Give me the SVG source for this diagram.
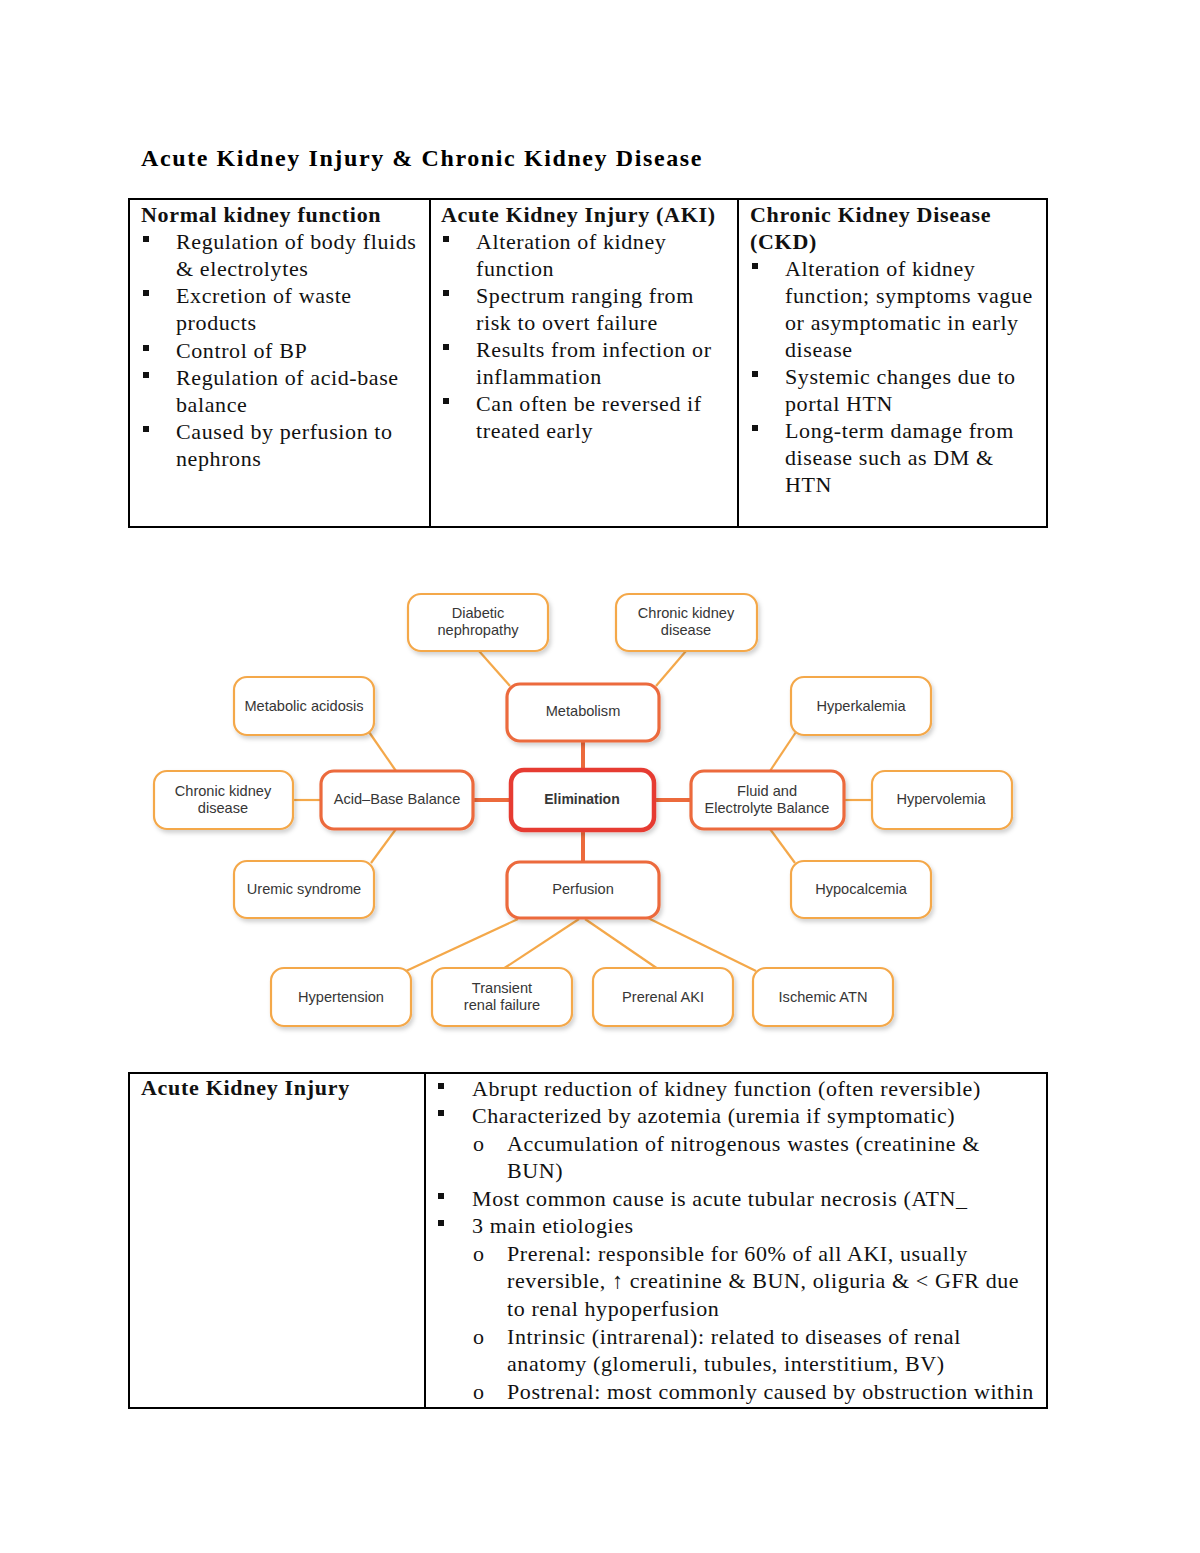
<svg xmlns="http://www.w3.org/2000/svg" width="1200" height="1553" viewBox="0 0 1200 1553">
<defs>
<filter id="sh" x="-20%" y="-20%" width="150%" height="160%">
<feDropShadow dx="2" dy="3" stdDeviation="2" flood-color="#000" flood-opacity="0.18"/>
</filter>
<style>
.t{font-family:"Liberation Serif","Times New Roman",serif;font-size:22px;fill:#111;letter-spacing:0.6px;}
.h{font-family:"Liberation Serif","Times New Roman",serif;font-size:22px;font-weight:bold;fill:#111;letter-spacing:0.7px;}
.ttl{font-family:"Liberation Serif","Times New Roman",serif;font-size:24px;font-weight:bold;fill:#000;letter-spacing:1.6px;}
.tb{fill:none;stroke:#000;stroke-width:2;}
.b{fill:#111;}
.n1{fill:#fff;stroke:#F4A84A;stroke-width:2.2;filter:url(#sh);}
.n2{fill:#fff;stroke:#EC6A3C;stroke-width:3.2;filter:url(#sh);}
.n3{fill:#fff;stroke:#E63B30;stroke-width:4.5;filter:url(#sh);}
.nt{font-family:"Liberation Sans",Arial,sans-serif;font-size:14.6px;fill:#363636;text-anchor:middle;}
.ntb{font-family:"Liberation Sans",Arial,sans-serif;font-size:14px;font-weight:bold;fill:#363636;text-anchor:middle;}
.c1{stroke:#F4A84A;stroke-width:2.2;fill:none;}
.c2{stroke:#EC6A3C;stroke-width:4;fill:none;}
</style>
</defs>
<rect width="1200" height="1553" fill="#fff"/>

<text class="ttl" x="141" y="166">Acute Kidney Injury &amp; Chronic Kidney Disease</text>

<!-- Top table -->
<g id="table-top">
<rect class="tb" x="129" y="199" width="918" height="328"/>
<line class="tb" x1="430" y1="199" x2="430" y2="527"/>
<line class="tb" x1="738" y1="199" x2="738" y2="527"/>
<text class="h" x="141" y="222">Normal kidney function</text>
<rect class="b" x="143" y="236" width="6" height="6"/>
<text class="t" x="176" y="249">Regulation of body fluids</text>
<text class="t" x="176" y="276">&amp; electrolytes</text>
<rect class="b" x="143" y="290" width="6" height="6"/>
<text class="t" x="176" y="303">Excretion of waste</text>
<text class="t" x="176" y="330">products</text>
<rect class="b" x="143" y="345" width="6" height="6"/>
<text class="t" x="176" y="358">Control of BP</text>
<rect class="b" x="143" y="372" width="6" height="6"/>
<text class="t" x="176" y="385">Regulation of acid-base</text>
<text class="t" x="176" y="412">balance</text>
<rect class="b" x="143" y="426" width="6" height="6"/>
<text class="t" x="176" y="439">Caused by perfusion to</text>
<text class="t" x="176" y="466">nephrons</text>

<text class="h" x="441" y="222">Acute Kidney Injury (AKI)</text>
<rect class="b" x="443" y="236" width="6" height="6"/>
<text class="t" x="476" y="249">Alteration of kidney</text>
<text class="t" x="476" y="276">function</text>
<rect class="b" x="443" y="290" width="6" height="6"/>
<text class="t" x="476" y="303">Spectrum ranging from</text>
<text class="t" x="476" y="330">risk to overt failure</text>
<rect class="b" x="443" y="344" width="6" height="6"/>
<text class="t" x="476" y="357">Results from infection or</text>
<text class="t" x="476" y="384">inflammation</text>
<rect class="b" x="443" y="398" width="6" height="6"/>
<text class="t" x="476" y="411">Can often be reversed if</text>
<text class="t" x="476" y="438">treated early</text>

<text class="h" x="750" y="222">Chronic Kidney Disease</text>
<text class="h" x="750" y="249">(CKD)</text>
<rect class="b" x="752" y="263" width="6" height="6"/>
<text class="t" x="785" y="276">Alteration of kidney</text>
<text class="t" x="785" y="303">function; symptoms vague</text>
<text class="t" x="785" y="330">or asymptomatic in early</text>
<text class="t" x="785" y="357">disease</text>
<rect class="b" x="752" y="371" width="6" height="6"/>
<text class="t" x="785" y="384">Systemic changes due to</text>
<text class="t" x="785" y="411">portal HTN</text>
<rect class="b" x="752" y="425" width="6" height="6"/>
<text class="t" x="785" y="438">Long-term damage from</text>
<text class="t" x="785" y="465">disease such as DM &amp;</text>
<text class="t" x="785" y="492">HTN</text>
</g>

<!-- Connectors -->
<g id="connectors">
<line class="c1" x1="479" y1="651" x2="510" y2="686"/>
<line class="c1" x1="686" y1="651" x2="656" y2="686"/>
<line class="c2" x1="583" y1="741" x2="583" y2="770"/>
<line class="c2" x1="583" y1="830" x2="583" y2="862"/>
<line class="c2" x1="473" y1="800" x2="511" y2="800"/>
<line class="c2" x1="654" y1="800" x2="691" y2="800"/>
<line class="c1" x1="369" y1="732" x2="396" y2="771"/>
<line class="c1" x1="293" y1="800" x2="321" y2="800"/>
<line class="c1" x1="396" y1="829" x2="371" y2="863"/>
<line class="c1" x1="796" y1="732" x2="770" y2="771"/>
<line class="c1" x1="844" y1="800" x2="872" y2="800"/>
<line class="c1" x1="770" y1="829" x2="795" y2="863"/>
<line class="c1" x1="518" y1="919" x2="406" y2="971"/>
<line class="c1" x1="579" y1="919" x2="503" y2="969"/>
<line class="c1" x1="585" y1="919" x2="658" y2="969"/>
<line class="c1" x1="648" y1="918" x2="756" y2="971"/>
</g>

<!-- Nodes -->
<g id="n-diabetic"><rect class="n1" x="408" y="594" width="140" height="57" rx="13"/><text class="nt" x="478" y="618">Diabetic</text><text class="nt" x="478" y="635">nephropathy</text></g>
<g id="n-ckd-top"><rect class="n1" x="616" y="594" width="141" height="57" rx="13"/><text class="nt" x="686" y="618">Chronic kidney</text><text class="nt" x="686" y="635">disease</text></g>
<g id="n-metabolism"><rect class="n2" x="507" y="684" width="152" height="57" rx="13"/><text class="nt" x="583" y="716">Metabolism</text></g>
<g id="n-metacid"><rect class="n1" x="234" y="677" width="140" height="58" rx="13"/><text class="nt" x="304" y="711">Metabolic acidosis</text></g>
<g id="n-hyperk"><rect class="n1" x="791" y="677" width="140" height="58" rx="13"/><text class="nt" x="861" y="711">Hyperkalemia</text></g>
<g id="n-ckd-left"><rect class="n1" x="154" y="771" width="139" height="58" rx="13"/><text class="nt" x="223" y="796">Chronic kidney</text><text class="nt" x="223" y="813">disease</text></g>
<g id="n-acidbase"><rect class="n2" x="321" y="771" width="152" height="58" rx="13"/><text class="nt" x="397" y="804">Acid–Base Balance</text></g>
<g id="n-elimination"><rect class="n3" x="511" y="770" width="143" height="60" rx="13"/><text class="ntb" x="582" y="804">Elimination</text></g>
<g id="n-fluid"><rect class="n2" x="691" y="771" width="153" height="58" rx="13"/><text class="nt" x="767" y="796">Fluid and</text><text class="nt" x="767" y="813">Electrolyte Balance</text></g>
<g id="n-hypervol"><rect class="n1" x="872" y="771" width="140" height="58" rx="13"/><text class="nt" x="941" y="804">Hypervolemia</text></g>
<g id="n-uremic"><rect class="n1" x="234" y="861" width="140" height="57" rx="13"/><text class="nt" x="304" y="894">Uremic syndrome</text></g>
<g id="n-perfusion"><rect class="n2" x="507" y="862" width="152" height="56" rx="13"/><text class="nt" x="583" y="894">Perfusion</text></g>
<g id="n-hypocal"><rect class="n1" x="791" y="861" width="140" height="57" rx="13"/><text class="nt" x="861" y="894">Hypocalcemia</text></g>
<g id="n-hypertension"><rect class="n1" x="271" y="968" width="140" height="58" rx="13"/><text class="nt" x="341" y="1002">Hypertension</text></g>
<g id="n-transient"><rect class="n1" x="432" y="968" width="140" height="58" rx="13"/><text class="nt" x="502" y="993">Transient</text><text class="nt" x="502" y="1010">renal failure</text></g>
<g id="n-prerenal"><rect class="n1" x="593" y="968" width="140" height="58" rx="13"/><text class="nt" x="663" y="1002">Prerenal AKI</text></g>
<g id="n-ischemic"><rect class="n1" x="753" y="968" width="140" height="58" rx="13"/><text class="nt" x="823" y="1002">Ischemic ATN</text></g>

<!-- Bottom table -->
<g id="table-bottom">
<rect class="tb" x="129" y="1073" width="918" height="335"/>
<line class="tb" x1="425" y1="1073" x2="425" y2="1408"/>
<text class="h" x="141" y="1095">Acute Kidney Injury</text>
<rect class="b" x="438" y="1083" width="6" height="6"/>
<text class="t" x="472" y="1096">Abrupt reduction of kidney function (often reversible)</text>
<rect class="b" x="438" y="1110" width="6" height="6"/>
<text class="t" x="472" y="1123">Characterized by azotemia (uremia if symptomatic)</text>
<text class="t" x="473" y="1151">o</text>
<text class="t" x="507" y="1151">Accumulation of nitrogenous wastes (creatinine &amp;</text>
<text class="t" x="507" y="1178">BUN)</text>
<rect class="b" x="438" y="1193" width="6" height="6"/>
<text class="t" x="472" y="1206">Most common cause is acute tubular necrosis (ATN_</text>
<rect class="b" x="438" y="1220" width="6" height="6"/>
<text class="t" x="472" y="1233">3 main etiologies</text>
<text class="t" x="473" y="1261">o</text>
<text class="t" x="507" y="1261">Prerenal: responsible for 60% of all AKI, usually</text>
<text class="t" x="507" y="1288">reversible, ↑ creatinine &amp; BUN, oliguria &amp; &lt; GFR due</text>
<text class="t" x="507" y="1316">to renal hypoperfusion</text>
<text class="t" x="473" y="1344">o</text>
<text class="t" x="507" y="1344">Intrinsic (intrarenal): related to diseases of renal</text>
<text class="t" x="507" y="1371">anatomy (glomeruli, tubules, interstitium, BV)</text>
<text class="t" x="473" y="1399">o</text>
<text class="t" x="507" y="1399">Postrenal: most commonly caused by obstruction within</text>
</g>
</svg>
